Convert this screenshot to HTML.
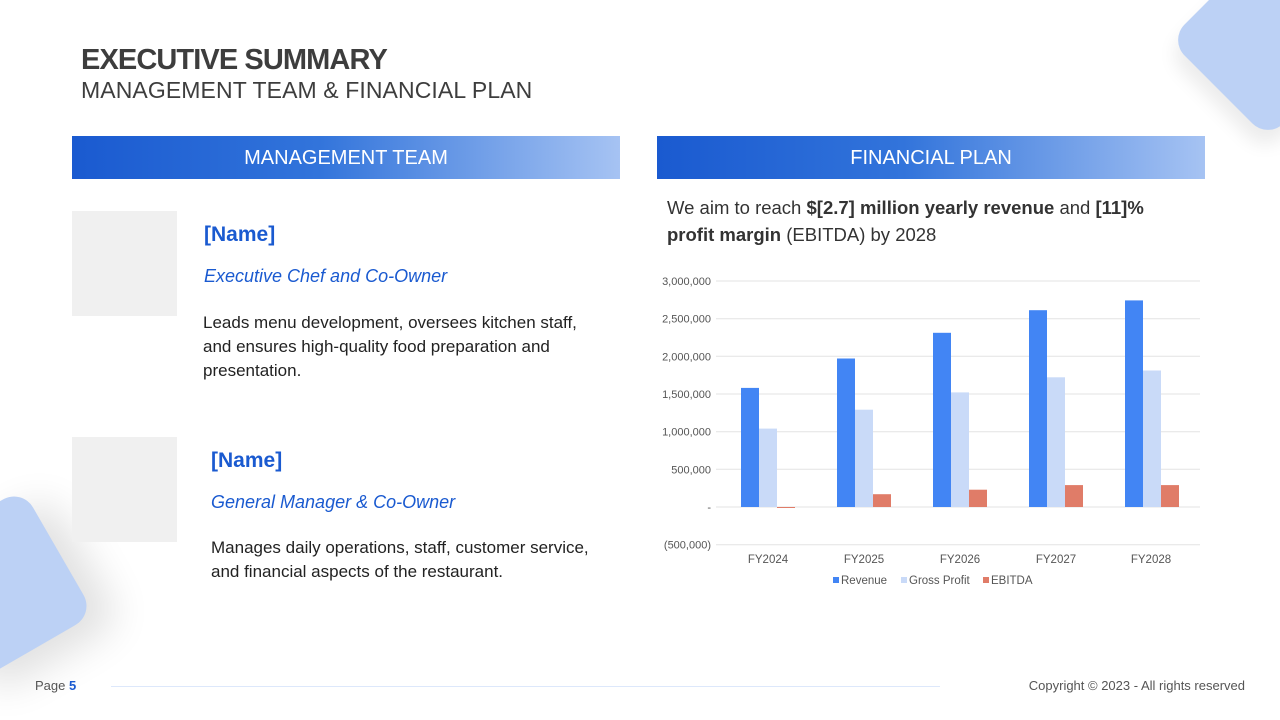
<!DOCTYPE html>
<html><head><meta charset="utf-8"><style>
*{margin:0;padding:0;box-sizing:border-box}
body{width:1280px;height:720px;background:#fff;position:relative;overflow:hidden;font-family:"Liberation Sans",sans-serif}
.abs{position:absolute}
.h1{left:81px;top:44px;font-size:29px;font-weight:bold;color:#3d3d3d;letter-spacing:-0.9px}
.h2{left:81px;top:77px;font-size:23px;color:#3d3d3d;letter-spacing:0.1px}
.band{height:43px;color:#fff;font-size:20px;text-align:center;line-height:44px;background:linear-gradient(90deg,#1a5ad0 0%,#3274db 45%,#a6c3f3 100%)}
.ph{background:#f0f0f0;width:105px;height:105px}
.name{color:#1a5ad0;font-weight:bold;font-size:21px}
.role{color:#1a5ad0;font-style:italic;font-size:18px}
.desc{color:#222;font-size:17px;line-height:24px}
</style></head><body>
<div class="abs" style="left:1198px;top:-30px;width:140px;height:140px;background:#bcd1f5;border-radius:22px;transform:rotate(45deg);box-shadow:8px 12px 18px rgba(0,0,0,0.08)"></div>
<div class="abs" style="left:-77px;top:515px;width:145px;height:145px;background:#bcd1f5;border-radius:22px;transform:rotate(-30deg);box-shadow:20px 20px 40px rgba(0,0,0,0.12)"></div>

<div class="abs h1">EXECUTIVE SUMMARY</div>
<div class="abs h2">MANAGEMENT TEAM &amp; FINANCIAL PLAN</div>

<div class="abs band" style="left:72px;top:136px;width:548px">MANAGEMENT TEAM</div>
<div class="abs band" style="left:657px;top:136px;width:548px">FINANCIAL PLAN</div>

<div class="abs ph" style="left:72px;top:211px"></div>
<div class="abs name" style="left:204px;top:223px">[Name]</div>
<div class="abs role" style="left:204px;top:266px">Executive Chef and Co-Owner</div>
<div class="abs desc" style="left:203px;top:311px;width:400px">Leads menu development, oversees kitchen staff, and ensures high-quality food preparation and presentation.</div>

<div class="abs ph" style="left:72px;top:437px"></div>
<div class="abs name" style="left:211px;top:449px">[Name]</div>
<div class="abs role" style="left:211px;top:492px">General Manager &amp; Co-Owner</div>
<div class="abs desc" style="left:211px;top:536px;width:400px">Manages daily operations, staff, customer service, and financial aspects of the restaurant.</div>

<div class="abs" style="left:667px;top:194px;width:520px;font-size:18.5px;line-height:27px;color:#333">We aim to reach <b>$[2.7] million yearly revenue</b> and <b>[11]% profit margin</b> (EBITDA) by 2028</div>

<svg class="abs" style="left:0;top:0" width="1280" height="720" font-family="Liberation Sans, sans-serif">
<g stroke="#e3e3e3" stroke-width="1">
<line x1="716" x2="1200" y1="281" y2="281"/><line x1="716" x2="1200" y1="318.7" y2="318.7"/>
<line x1="716" x2="1200" y1="356.3" y2="356.3"/><line x1="716" x2="1200" y1="394" y2="394"/>
<line x1="716" x2="1200" y1="431.7" y2="431.7"/><line x1="716" x2="1200" y1="469.3" y2="469.3"/>
<line x1="716" x2="1200" y1="507" y2="507"/><line x1="716" x2="1200" y1="544.7" y2="544.7"/>
</g>
<g font-size="11" fill="#555" text-anchor="end">
<text x="711" y="285">3,000,000</text><text x="711" y="322.7">2,500,000</text>
<text x="711" y="360.3">2,000,000</text><text x="711" y="398">1,500,000</text>
<text x="711" y="435.7">1,000,000</text><text x="711" y="473.3">500,000</text>
<text x="711" y="511">-</text><text x="711" y="548.7">(500,000)</text>
</g>
<g fill="#4285f4">
<rect x="741" y="387.9" width="18" height="119.1"/><rect x="837" y="358.5" width="18" height="148.5"/>
<rect x="933" y="332.8" width="18" height="174.2"/><rect x="1029" y="310.2" width="18" height="196.8"/>
<rect x="1125" y="300.4" width="18" height="206.6"/>
</g>
<g fill="#c9daf8">
<rect x="759" y="428.6" width="18" height="78.4"/><rect x="855" y="409.7" width="18" height="97.3"/>
<rect x="951" y="392.4" width="18" height="114.6"/><rect x="1047" y="377.3" width="18" height="129.7"/>
<rect x="1143" y="370.5" width="18" height="136.5"/>
</g>
<g fill="#e07c68">
<rect x="777" y="507" width="18" height="1"/><rect x="873" y="494.2" width="18" height="12.8"/>
<rect x="969" y="489.7" width="18" height="17.3"/><rect x="1065" y="485.1" width="18" height="21.9"/>
<rect x="1161" y="485.1" width="18" height="21.9"/>
</g>
<g font-size="11.5" fill="#555" text-anchor="middle">
<text x="768" y="563">FY2024</text><text x="864" y="563">FY2025</text><text x="960" y="563">FY2026</text>
<text x="1056" y="563">FY2027</text><text x="1151" y="563">FY2028</text>
</g>
<g font-size="11.5" fill="#555">
<rect x="833" y="577" width="6" height="6" fill="#4285f4"/><text x="841" y="584">Revenue</text>
<rect x="901" y="577" width="6" height="6" fill="#c9daf8"/><text x="909" y="584">Gross Profit</text>
<rect x="983" y="577" width="6" height="6" fill="#e07c68"/><text x="991" y="584">EBITDA</text>
</g>
<line x1="111" x2="940" y1="686.5" y2="686.5" stroke="#dde8fb" stroke-width="1"/>
</svg>

<div class="abs" style="left:35px;top:678px;font-size:13px;color:#555">Page <b style="color:#1a5ad0">5</b></div>
<div class="abs" style="right:35px;top:678px;font-size:13px;color:#555">Copyright © 2023 - All rights reserved</div>
</body></html>
